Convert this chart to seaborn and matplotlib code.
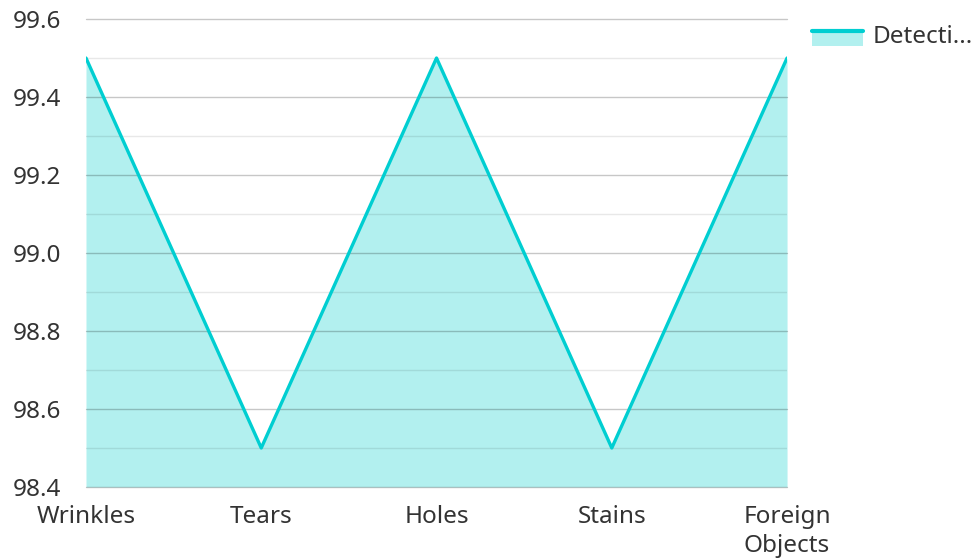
import pandas as pd
import matplotlib.pyplot as plt
import seaborn as sns
from matplotlib.legend_handler import HandlerBase
from matplotlib.patches import Rectangle
from matplotlib.lines import Line2D
from matplotlib.ticker import MultipleLocator

# dados
categorias = ['Wrinkles', 'Tears', 'Holes', 'Stains', 'Foreign\nObjects']
deteccao = [99.5, 98.5, 99.5, 98.5, 99.5]
serie = 'Detecti...'

cor_linha = '#00CED1'
cor_area = '#B2F0EF'

dados = pd.DataFrame({'defeito': categorias, 'valor': deteccao})
dados['pos'] = range(len(categorias))

sns.set_style('white')
plt.rcParams['font.family'] = ['Noto Sans', 'DejaVu Sans']

fig = plt.figure(figsize=(9.76, 5.6), dpi=100)
ax = fig.add_axes([0.0881, 0.1304, 0.7183, 0.8356])

ax.fill_between(dados['pos'], dados['valor'], 98.4, color=cor_area, lw=0, zorder=1)
sns.lineplot(data=dados, x='pos', y='valor', color=cor_linha, lw=2.4, ax=ax, zorder=3)

ax.set_xlim(0, len(categorias) - 1)
ax.set_ylim(98.4, 99.6)
ax.set_xticks(dados['pos'])
ax.set_xticklabels(categorias)
ax.yaxis.set_major_locator(MultipleLocator(0.2))
ax.yaxis.set_minor_locator(MultipleLocator(0.1))
ax.yaxis.set_major_formatter(lambda v, p: f'{v:.1f}')

# grade por cima da area
ax.set_axisbelow(False)
ax.grid(True, axis='y', which='major', color='black', alpha=0.22, lw=1, zorder=2)
ax.grid(True, axis='y', which='minor', color='black', alpha=0.09, lw=1, zorder=2)
ax.grid(False, axis='x')
for g in ax.get_ygridlines():
    g.set_clip_on(False)
for s in ax.spines.values():
    s.set_visible(False)

ax.tick_params(axis='both', which='both', length=0, labelsize=17.5, labelcolor='#333333')
ax.tick_params(axis='y', pad=18)
ax.tick_params(axis='x', pad=13)
for t in ax.get_xticklabels():
    t.set_verticalalignment('top')
    t.set_linespacing(1.25)
ax.set_xlabel('')
ax.set_ylabel('')


class AreaHandler(HandlerBase):
    def create_artists(self, legend, orig, xd, yd, w, h, fontsize, trans):
        r = Rectangle((-xd, -yd - h * 0.15), w, h * 0.85, fc=cor_area, lw=0, transform=trans)
        l = Line2D([-xd, -xd + w], [-yd + h * 0.7, -yd + h * 0.7], color=cor_linha, lw=3, transform=trans)
        return [r, l]


ax.legend([object()], [serie], handler_map={object: AreaHandler()},
          loc='upper left', bbox_to_anchor=(0.8215, 0.972), bbox_transform=fig.transFigure,
          frameon=False, fontsize=17.5, handlelength=2.1, handletextpad=0.4,
          borderaxespad=0, labelcolor='#333333')

fig.savefig('out.png', dpi=100)
